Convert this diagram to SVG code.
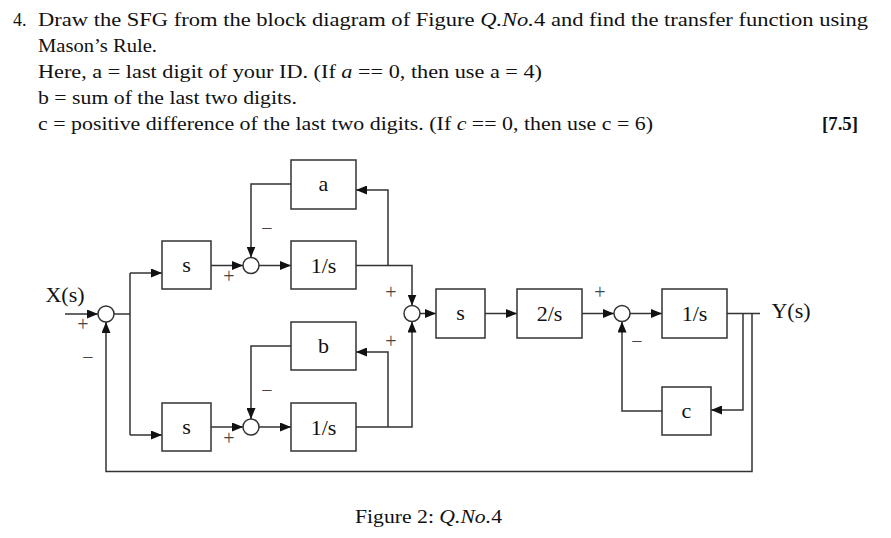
<svg xmlns="http://www.w3.org/2000/svg" width="891" height="538" viewBox="0 0 891 538">
<style>
.t{font-family:"Liberation Serif","Times New Roman",serif;fill:#111;font-size:18px}
.lbl{font-family:"Liberation Serif","Times New Roman",serif;fill:#111;font-size:22px;text-anchor:middle}
.sg{font-family:"Liberation Serif","Times New Roman",serif;fill:#444;font-size:20px;text-anchor:middle}
.box{fill:#fff;stroke:#333;stroke-width:1.5}
.sum{fill:#fff;stroke:#333;stroke-width:1.5}
.w{fill:none;stroke:#333;stroke-width:1.5}
.a{fill:none;stroke:#333;stroke-width:1.5;marker-end:url(#arr)}
</style>
<defs>
<marker id="arr" markerUnits="userSpaceOnUse" markerWidth="11" markerHeight="9" refX="11" refY="4.5" orient="auto">
<path d="M0,0 L11,4.5 L0,9 z" fill="#111"/>
</marker>
</defs>
<rect width="891" height="538" fill="#fff"/>

<g id="question">
<text class="t" x="13" y="26">4.</text>
<text class="t" x="38" y="26" textLength="830" lengthAdjust="spacingAndGlyphs">Draw the SFG from the block diagram of Figure <tspan font-style="italic">Q.No.</tspan>4 and find the transfer function using</text>
<text class="t" x="38" y="52" textLength="119" lengthAdjust="spacingAndGlyphs">Mason’s Rule.</text>
<text class="t" x="38" y="78" textLength="504" lengthAdjust="spacingAndGlyphs">Here, a = last digit of your ID. (If <tspan font-style="italic">a</tspan> == 0, then use a = 4)</text>
<text class="t" x="38" y="104" textLength="259" lengthAdjust="spacingAndGlyphs">b = sum of the last two digits.</text>
<text class="t" x="38" y="130" textLength="615" lengthAdjust="spacingAndGlyphs">c = positive difference of the last two digits. (If <tspan font-style="italic">c</tspan> == 0, then use c = 6)</text>
<text class="t" x="822" y="130" font-weight="bold" textLength="36" lengthAdjust="spacingAndGlyphs">[7.5]</text>
</g>

<g id="connectors">
<path class="a" d="M65,314 H98"/>
<path class="w" d="M114,314 H130"/>
<path class="w" d="M130,273 V435"/>
<path class="a" d="M130,273 H162"/>
<path class="a" d="M130,435 H162"/>
<path class="a" d="M211,265.5 H243"/>
<path class="a" d="M259,265.5 H291"/>
<path class="a" d="M291,184 H251 V257.5"/>
<path class="a" d="M356,265.5 H412 V305.5"/>
<path class="a" d="M388,265.5 V190 H356"/>
<path class="a" d="M211,427 H243"/>
<path class="a" d="M259,427 H291"/>
<path class="a" d="M291,346 H251 V419"/>
<path class="a" d="M356,427 H412 V321.5"/>
<path class="a" d="M388,427 V352 H356"/>
<path class="a" d="M420,313.5 H436"/>
<path class="a" d="M485,313.5 H517"/>
<path class="a" d="M582,313.5 H614"/>
<path class="a" d="M630,313.5 H662"/>
<path class="w" d="M727,313.5 H760"/>
<path class="a" d="M743,313.5 V410 H711"/>
<path class="a" d="M662,411 H622 V321.5"/>
<path class="a" d="M752,313.5 V471.5 H106 V322"/>
</g>

<g id="J0"><circle class="sum" cx="106" cy="314" r="8"/></g>
<g id="J1"><circle class="sum" cx="251" cy="265.5" r="8"/></g>
<g id="J2"><circle class="sum" cx="251" cy="427" r="8"/></g>
<g id="J3"><circle class="sum" cx="412" cy="313.5" r="8"/></g>
<g id="J4"><circle class="sum" cx="622" cy="313.5" r="8"/></g>

<g id="box-a"><rect class="box" x="291" y="160" width="65" height="49"/><text class="lbl" x="323.5" y="191">a</text></g>
<g id="box-int1"><rect class="box" x="291" y="241" width="65" height="48"/><text class="lbl" x="323.5" y="273">1/s</text></g>
<g id="box-s1"><rect class="box" x="162" y="241" width="49" height="48"/><text class="lbl" x="186.5" y="272">s</text></g>
<g id="box-b"><rect class="box" x="291" y="322" width="65" height="48"/><text class="lbl" x="323.5" y="353">b</text></g>
<g id="box-s2"><rect class="box" x="162" y="403" width="49" height="48"/><text class="lbl" x="186.5" y="434">s</text></g>
<g id="box-int2"><rect class="box" x="291" y="403" width="65" height="48"/><text class="lbl" x="323.5" y="435">1/s</text></g>
<g id="box-s3"><rect class="box" x="436" y="289" width="49" height="49"/><text class="lbl" x="460.5" y="320">s</text></g>
<g id="box-2s"><rect class="box" x="517" y="289" width="65" height="49"/><text class="lbl" x="549.5" y="321">2/s</text></g>
<g id="box-int3"><rect class="box" x="662" y="289" width="65" height="49"/><text class="lbl" x="694.5" y="321">1/s</text></g>
<g id="box-c"><rect class="box" x="662" y="387" width="49" height="48"/><text class="lbl" x="686.5" y="418">c</text></g>

<g id="labels">
<text class="lbl" x="65" y="302">X(s)</text>
<text class="lbl" x="791" y="318">Y(s)</text>
<text class="sg" x="83" y="331">+</text>
<text class="sg" x="88" y="364">−</text>
<text class="sg" x="229" y="283">+</text>
<text class="sg" x="267" y="235">−</text>
<text class="sg" x="229" y="445">+</text>
<text class="sg" x="267" y="397">−</text>
<text class="sg" x="391" y="299">+</text>
<text class="sg" x="391" y="348">+</text>
<text class="sg" x="600" y="299">+</text>
<text class="sg" x="637" y="348">−</text>
</g>

<g id="caption">
<text class="t" x="355" y="523" textLength="147" lengthAdjust="spacingAndGlyphs">Figure 2:  <tspan font-style="italic">Q.No.</tspan>4</text>
</g>
</svg>
